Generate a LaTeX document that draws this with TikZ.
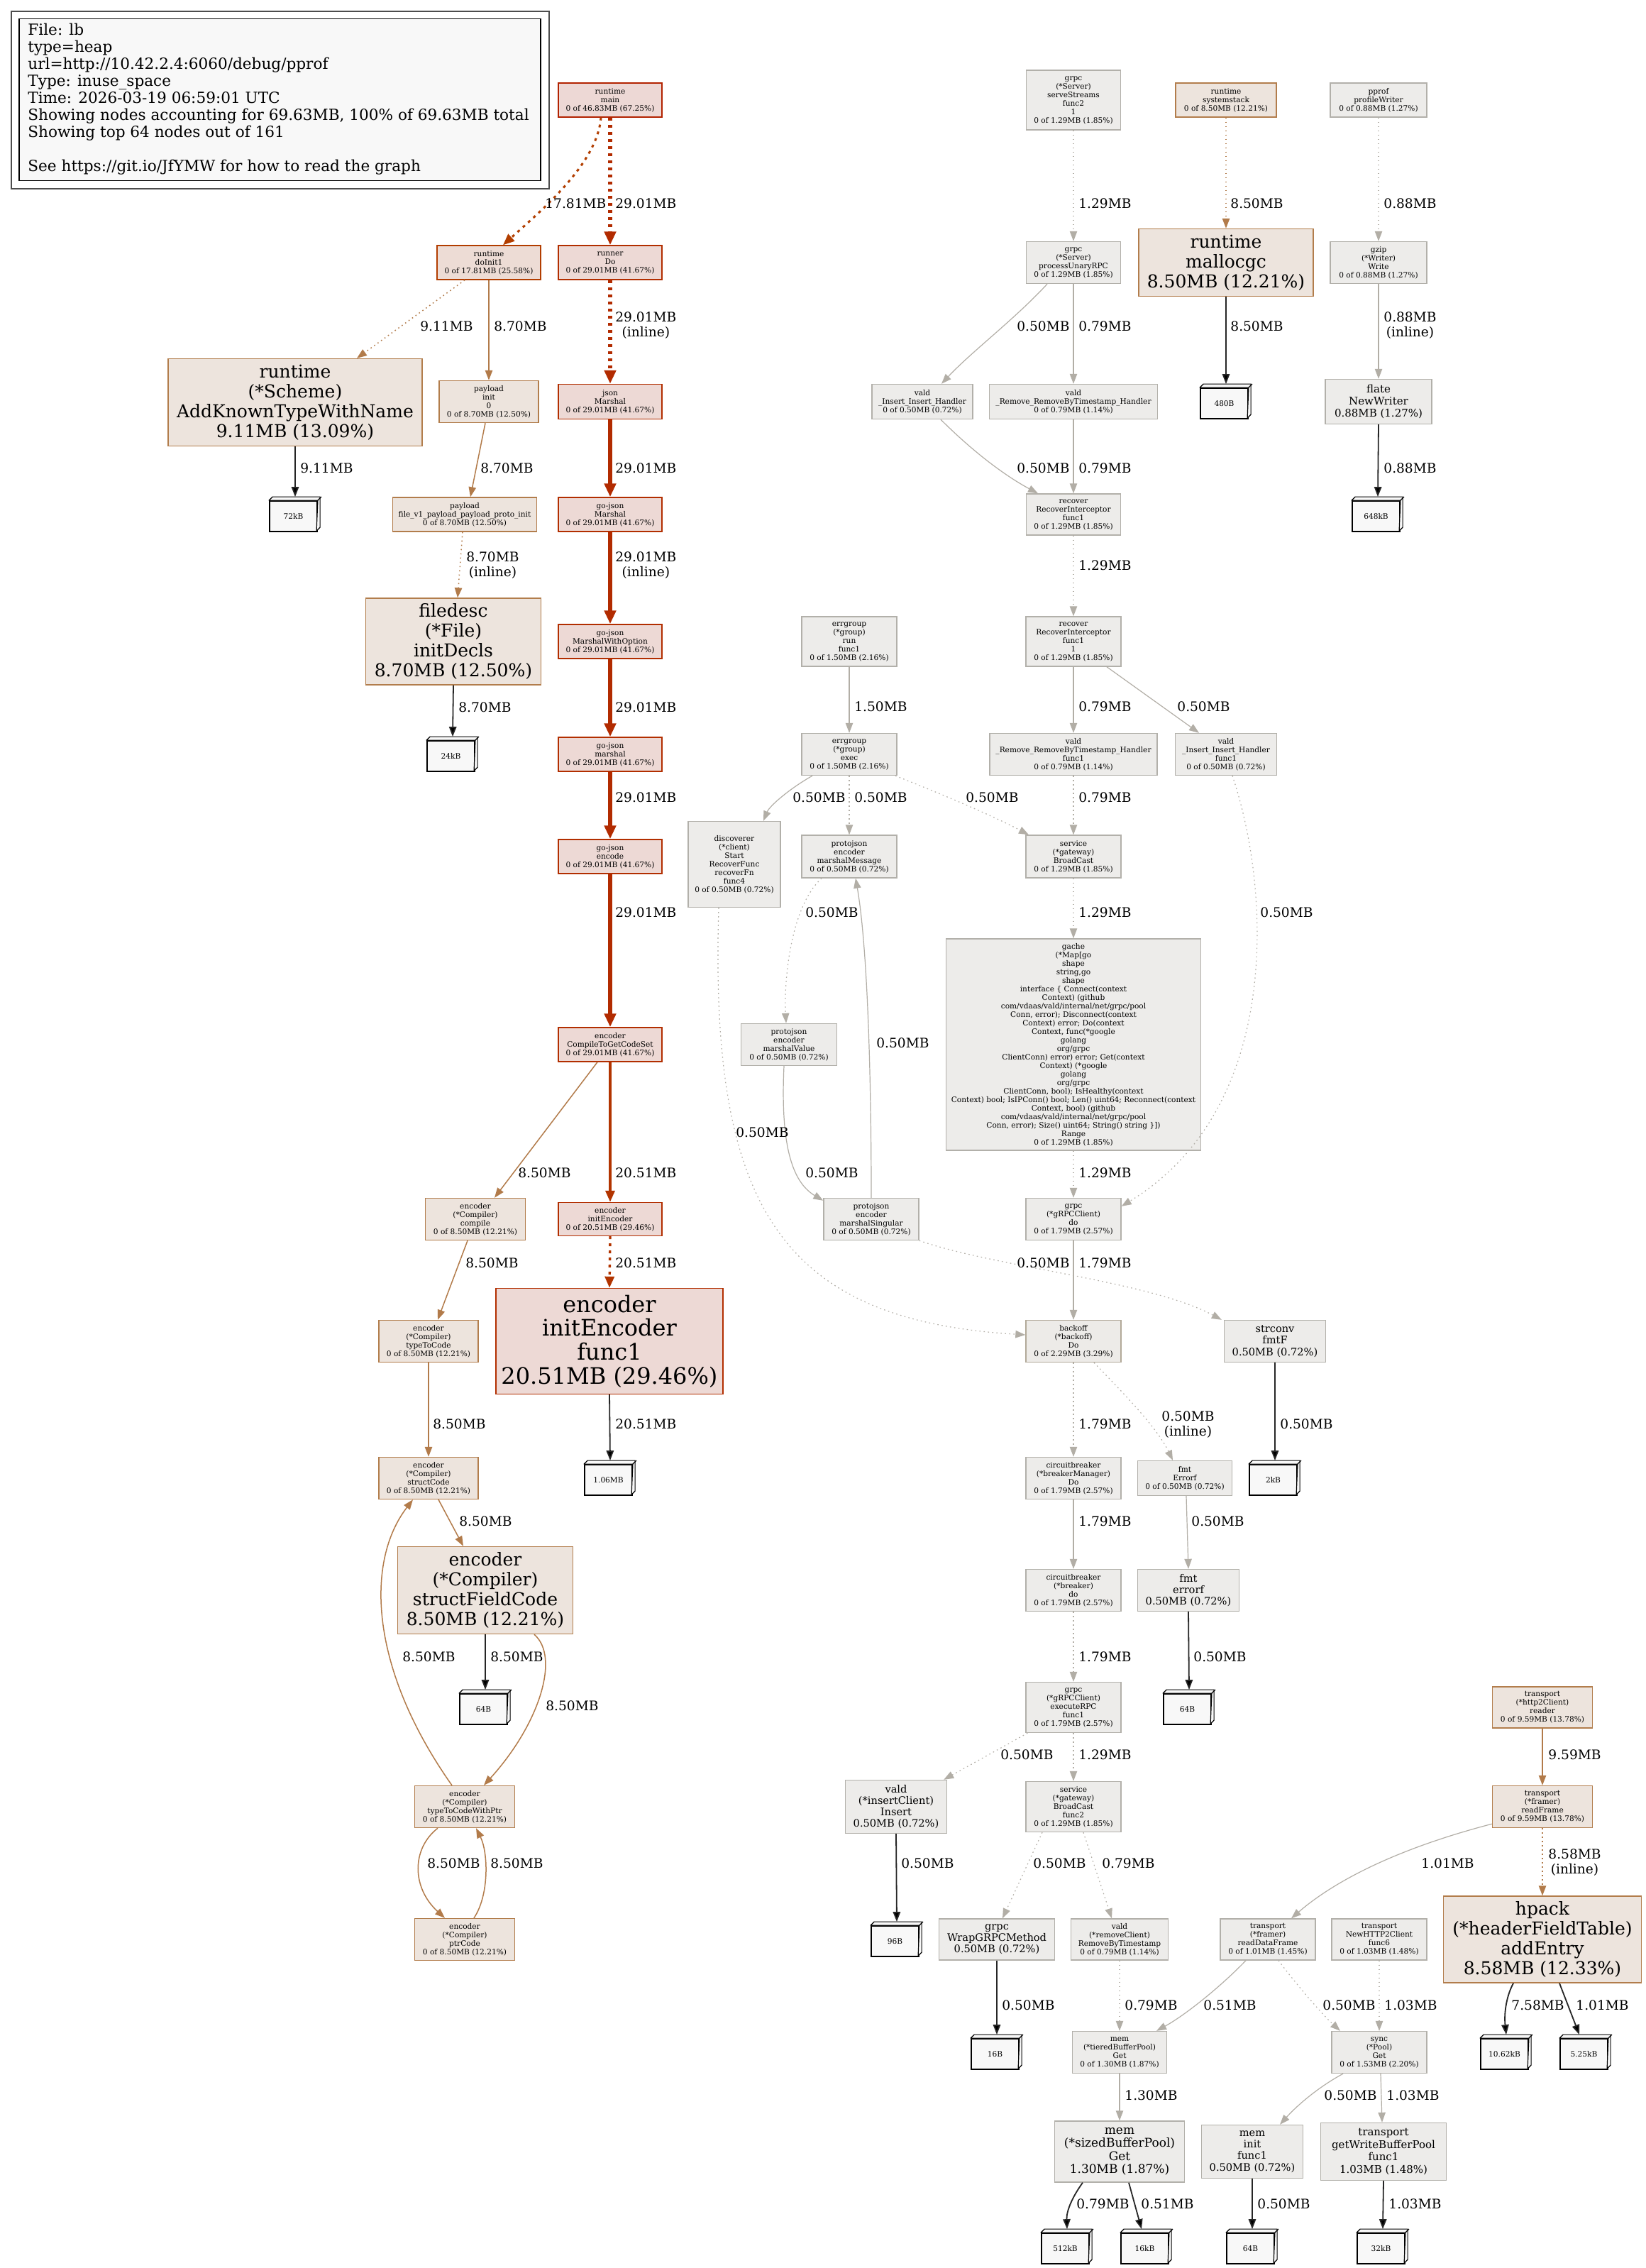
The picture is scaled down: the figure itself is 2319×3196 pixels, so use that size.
\documentclass[tikz,border=0pt]{standalone}
\usepackage{fontspec}
\setmainfont{DejaVu Serif}
\usetikzlibrary{arrows.meta,calc}
\definecolor{cRAd}{HTML}{B22200}\definecolor{cRAf}{HTML}{EDD8D5}
\definecolor{cRBd}{HTML}{B22E00}\definecolor{cRBf}{HTML}{EDD9D5}
\definecolor{cRCd}{HTML}{B23D00}\definecolor{cRCf}{HTML}{EDDCD5}
\definecolor{cBrd}{HTML}{B27D4C}\definecolor{cBrf}{HTML}{EDE4DD}
\definecolor{cGyd}{HTML}{B2B0AA}\definecolor{cGyf}{HTML}{EDECEA}
\definecolor{cGDd}{HTML}{B2A999}\definecolor{cGDf}{HTML}{EDEBE8}
\definecolor{cLeaf}{HTML}{F8F8F8}
\definecolor{cRE}{HTML}{B22B00}\definecolor{cRE2}{HTML}{B23400}\definecolor{cRE3}{HTML}{B23E00}
\definecolor{cBE}{HTML}{B27B4A}\definecolor{cGE}{HTML}{B2AEA6}
\newcommand\fnA{\fontsize{5.3}{6}\selectfont}
\newcommand\fnB{\fontsize{7.3}{8.1}\selectfont}
\newcommand\fnBa{\fontsize{7.5}{8.7}\selectfont}
\newcommand\fnBb{\fontsize{8.5}{9.25}\selectfont}
\newcommand\fnC{\fontsize{12.5}{14}\selectfont}
\newcommand\fnCh{\fontsize{12.5}{14.1}\selectfont}
\newcommand\fnD{\fontsize{16}{16.8}\selectfont}
\newcommand\fnL{\fontsize{9.3}{10.5}\selectfont}
\newcommand\fnLeg{\fontsize{10.8}{12}\selectfont}
\newcommand\leafbox[4]{%
  \node[leaf] (#1) at ({#2-2.5},{#3+2.5}) {#4};
  \filldraw[leafside] (#1.north west) -- ++(5,-5) -- ++(67,0) -- ++(0,43) -- ++(-5,5) -- (#1.north east) -- cycle;
  \draw[leafside] (#1.north east) -- ++(5,-5);
  \coordinate (#1t) at ([xshift=1.25pt,yshift=2.5pt]#1.north);
}
\newcommand\lab[4]{\node[lab] (#1) at (#2,#3) {#4};}
\tikzset{
  nd/.style={rectangle, inner sep=0pt, align=center, line width=0.7pt},
  sz/.style 2 args={minimum width=#1*0.5pt, minimum height=#2*0.5pt},
  redA/.style={nd, draw=cRAd, fill=cRAf},
  redB/.style={nd, draw=cRBd, fill=cRBf},
  redC/.style={nd, draw=cRCd, fill=cRCf},
  brn/.style={nd, draw=cBrd, fill=cBrf},
  gry/.style={nd, draw=cGyd, fill=cGyf},
  gryd/.style={nd, draw=cGDd, fill=cGDf},
  leaf/.style={nd, draw=black, fill=cLeaf, line width=0.9pt, minimum width=33.5pt, minimum height=21.5pt, font=\fnA},
  leafside/.style={draw=black, fill=cLeaf, line width=0.6pt, line join=round},
  lab/.style={anchor=west, inner sep=0pt, font=\fnL, align=center},
  gE/.style={draw=cGE, line width=0.6pt, -{Triangle[length=7pt,width=5.2pt]}},
  bE/.style={draw=cBE, line width=0.75pt, -{Triangle[length=7pt,width=5.2pt]}},
  kE/.style={draw=black!85, line width=0.9pt, -{Triangle[length=7pt,width=5.2pt,fill=black]}},
  rE/.style={draw=cRE, line width=2.6pt, -{Triangle[length=9.5pt,width=8pt]}},
  rE2/.style={draw=cRE2, line width=1.7pt, -{Triangle[length=8pt,width=6.5pt]}},
  rE3/.style={draw=cRE3, line width=1.5pt, -{Triangle[length=8pt,width=6.5pt]}},
  dotG/.style={dash pattern=on 0.8pt off 2.2pt},
  dotR/.style={dash pattern=on 2pt off 3pt}
}
\begin{document}
\begin{tikzpicture}[x=0.5pt,y=-0.5pt]
\useasboundingbox (0,0) rectangle (2319,3196);
\fill[white] (0,0) rectangle (2319,3196);
% legend
\node[draw=black!70, line width=0.7pt, minimum width=379pt, minimum height=125pt, inner sep=0pt] (legbox) at (395,141) {};
\node[draw=black, fill=cLeaf, line width=0.7pt, minimum width=367.5pt, minimum height=113.75pt, inner sep=0pt] (leginner) at (394.5,140.5) {};
\node[anchor=north west, inner sep=0pt, align=left, font=\fnLeg] (legtext) at (39,32.6) {File: lb\\type=heap\\url=http://10.42.2.4:6060/debug/pprof\\Type: inuse\_space\\Time: 2026-03-19 06:59:01 UTC\\Showing nodes accounting for 69.63MB, 100\% of 69.63MB total\\Showing top 64 nodes out of 161\\[12pt]See https://git.io/JfYMW for how to read the graph};
% ---- left column nodes
\node[redA, sz={146}{48}, font=\fnA] (main) at (860,141) {runtime\\main\\0 of 46.83MB (67.25\%)};
\node[redC, sz={146}{48}, font=\fnA] (doInit1) at (689,370) {runtime\\doInit1\\0 of 17.81MB (25.58\%)};
\node[redB, sz={146}{48}, font=\fnA] (runnerDo) at (860,370) {runner\\Do\\0 of 29.01MB (41.67\%)};
\node[brn, sz={358}{123}, font=\fnC] (scheme) at (416,567) {runtime\\(*Scheme)\\AddKnownTypeWithName\\9.11MB (13.09\%)};
\node[brn, sz={140}{59}, font=\fnA] (payinit) at (689,566) {payload\\init\\0\\0 of 8.70MB (12.50\%)};
\node[redB, sz={146}{49}, font=\fnA] (jsonMarshal) at (860,566) {json\\Marshal\\0 of 29.01MB (41.67\%)};
\leafbox{k72}{416}{725}{72kB}
\node[brn, sz={203}{48}, font=\fnA] (payfile) at (655,725) {payload\\file\_v1\_payload\_payload\_proto\_init\\0 of 8.70MB (12.50\%)};
\node[redB, sz={146}{48}, font=\fnA] (gjMarshal) at (860,725) {go-json\\Marshal\\0 of 29.01MB (41.67\%)};
\node[brn, sz={247}{122}, font=\fnC] (filedesc) at (639,904) {filedesc\\(*File)\\initDecls\\8.70MB (12.50\%)};
\node[redB, sz={146}{48}, font=\fnA] (gjMWO) at (860,904) {go-json\\MarshalWithOption\\0 of 29.01MB (41.67\%)};
\leafbox{k24}{638}{1063}{24kB}
\node[redB, sz={146}{48}, font=\fnA] (gjmarshal) at (860,1063) {go-json\\marshal\\0 of 29.01MB (41.67\%)};
\node[redB, sz={146}{48}, font=\fnA] (gjencode) at (860,1207) {go-json\\encode\\0 of 29.01MB (41.67\%)};
\node[redB, sz={146}{48}, font=\fnA] (cgcs) at (860,1472) {encoder\\CompileToGetCodeSet\\0 of 29.01MB (41.67\%)};
\node[brn, sz={141}{59}, font=\fnA] (compile) at (670,1718) {encoder\\(*Compiler)\\compile\\0 of 8.50MB (12.21\%)};
\node[redB, sz={146}{47}, font=\fnA] (initenc) at (860,1718) {encoder\\initEncoder\\0 of 20.51MB (29.46\%)};
\node[redB, sz={320}{149}, font=\fnD] (initencf) at (859,1890) {encoder\\initEncoder\\func1\\20.51MB (29.46\%)};
\node[brn, sz={140}{59}, font=\fnA] (ttc) at (604,1890) {encoder\\(*Compiler)\\typeToCode\\0 of 8.50MB (12.21\%)};
\node[brn, sz={140}{59}, font=\fnA] (sc) at (604,2083) {encoder\\(*Compiler)\\structCode\\0 of 8.50MB (12.21\%)};
\leafbox{mb106}{860}{2083}{1.06MB}
\node[brn, sz={247}{123}, font=\fnC] (sfc) at (684,2241) {encoder\\(*Compiler)\\structFieldCode\\8.50MB (12.21\%)};
\leafbox{b64a}{684}{2406}{64B}
\node[brn, sz={141}{59}, font=\fnA] (ttcwp) at (655,2546) {encoder\\(*Compiler)\\typeToCodeWithPtr\\0 of 8.50MB (12.21\%)};
\node[brn, sz={141}{59}, font=\fnA] (ptr) at (655,2733) {encoder\\(*Compiler)\\ptrCode\\0 of 8.50MB (12.21\%)};
% ---- right part nodes
\node[gry, sz={133}{84}, font=\fnA] (serve) at (1513,141) {grpc\\(*Server)\\serveStreams\\func2\\1\\0 of 1.29MB (1.85\%)};
\node[brn, sz={142}{48}, font=\fnA] (sysstack) at (1728,141) {runtime\\systemstack\\0 of 8.50MB (12.21\%)};
\node[gry, sz={136}{48}, font=\fnA] (pprofw) at (1943,141) {pprof\\profileWriter\\0 of 0.88MB (1.27\%)};
\node[gry, sz={133}{59}, font=\fnA] (unary) at (1513,370) {grpc\\(*Server)\\processUnaryRPC\\0 of 1.29MB (1.85\%)};
\node[brn, sz={246}{95}, font=\fnC] (malloc) at (1728,370) {runtime\\mallocgc\\8.50MB (12.21\%)};
\node[gry, sz={136}{59}, font=\fnA] (gzip) at (1943,370) {gzip\\(*Writer)\\Write\\0 of 0.88MB (1.27\%)};
\node[gry, sz={142}{49}, font=\fnA] (insH) at (1300,566) {vald\\\_Insert\_Insert\_Handler\\0 of 0.50MB (0.72\%)};
\node[gry, sz={237}{49}, font=\fnA] (remH) at (1513,566) {vald\\\_Remove\_RemoveByTimestamp\_Handler\\0 of 0.79MB (1.14\%)};
\leafbox{b480}{1728}{566}{480B}
\node[gry, sz={150}{63}, font=\fnBa] (flate) at (1943,566) {flate\\NewWriter\\0.88MB (1.27\%)};
\node[gry, sz={133}{58}, font=\fnA] (rec1) at (1513,725) {recover\\RecoverInterceptor\\func1\\0 of 1.29MB (1.85\%)};
\leafbox{k648}{1942}{725}{648kB}
\node[gry, sz={134}{70}, font=\fnA] (egrun) at (1197,904) {errgroup\\(*group)\\run\\func1\\0 of 1.50MB (2.16\%)};
\node[gry, sz={134}{70}, font=\fnA] (rec2) at (1513,904) {recover\\RecoverInterceptor\\func1\\1\\0 of 1.29MB (1.85\%)};
\node[gry, sz={134}{59}, font=\fnA] (egexec) at (1197,1063) {errgroup\\(*group)\\exec\\0 of 1.50MB (2.16\%)};
\node[gry, sz={236}{59}, font=\fnA] (remHf) at (1513,1063) {vald\\\_Remove\_RemoveByTimestamp\_Handler\\func1\\0 of 0.79MB (1.14\%)};
\node[gry, sz={143}{59}, font=\fnA] (insHf) at (1728,1063) {vald\\\_Insert\_Insert\_Handler\\func1\\0 of 0.50MB (0.72\%)};
\node[gry, sz={130}{121}, font=\fnA] (disc) at (1035,1218) {discoverer\\(*client)\\Start\\RecoverFunc\\recoverFn\\func4\\0 of 0.50MB (0.72\%)};
\node[gry, sz={134}{60}, font=\fnA] (pjmm) at (1197,1207) {protojson\\encoder\\marshalMessage\\0 of 0.50MB (0.72\%)};
\node[gry, sz={134}{60}, font=\fnA] (bcast) at (1513,1207) {service\\(*gateway)\\BroadCast\\0 of 1.29MB (1.85\%)};
\node[gry, sz={359}{298}, font=\fnA] (gache) at (1513,1472) {gache\\(*Map[go\\shape\\string,go\\shape\\interface \{ Connect(context\\Context) (github\\com/vdaas/vald/internal/net/grpc/pool\\Conn, error); Disconnect(context\\Context) error; Do(context\\Context, func(*google\\golang\\org/grpc\\ClientConn) error) error; Get(context\\Context) (*google\\golang\\org/grpc\\ClientConn, bool); IsHealthy(context\\Context) bool; IsIPConn() bool; Len() uint64; Reconnect(context\\Context, bool) (github\\com/vdaas/vald/internal/net/grpc/pool\\Conn, error); Size() uint64; String() string \}])\\Range\\0 of 1.29MB (1.85\%)};
\node[gry, sz={135}{59}, font=\fnA] (pjmv) at (1112,1472) {protojson\\encoder\\marshalValue\\0 of 0.50MB (0.72\%)};
\node[gry, sz={134}{59}, font=\fnA] (pjms) at (1228,1718) {protojson\\encoder\\marshalSingular\\0 of 0.50MB (0.72\%)};
\node[gry, sz={134}{59}, font=\fnA] (gdo) at (1513,1718) {grpc\\(*gRPCClient)\\do\\0 of 1.79MB (2.57\%)};
\node[gryd, sz={134}{59}, font=\fnA] (backoff) at (1513,1890) {backoff\\(*backoff)\\Do\\0 of 2.29MB (3.29\%)};
\node[gry, sz={143}{59}, font=\fnB] (fmtF) at (1797,1890) {strconv\\fmtF\\0.50MB (0.72\%)};
\node[gry, sz={134}{59}, font=\fnA] (cbm) at (1513,2083) {circuitbreaker\\(*breakerManager)\\Do\\0 of 1.79MB (2.57\%)};
\node[gry, sz={133}{49}, font=\fnA] (Errorf) at (1670,2083) {fmt\\Errorf\\0 of 0.50MB (0.72\%)};
\leafbox{k2}{1797}{2083}{2kB}
\node[gry, sz={134}{59}, font=\fnA] (cbdo) at (1513,2241) {circuitbreaker\\(*breaker)\\do\\0 of 1.79MB (2.57\%)};
\node[gry, sz={143}{59}, font=\fnB] (errorf) at (1675,2241) {fmt\\errorf\\0.50MB (0.72\%)};
\leafbox{b64b}{1676}{2406}{64B}
\node[gry, sz={134}{71}, font=\fnA] (exec) at (1513,2406) {grpc\\(*gRPCClient)\\executeRPC\\func1\\0 of 1.79MB (2.57\%)};
\node[gry, sz={143}{75}, font=\fnB] (insC) at (1263,2546) {vald\\(*insertClient)\\Insert\\0.50MB (0.72\%)};
\node[gry, sz={134}{71}, font=\fnA] (bcast2) at (1513,2546) {service\\(*gateway)\\BroadCast\\func2\\0 of 1.29MB (1.85\%)};
\node[brn, sz={141}{58}, font=\fnA] (h2reader) at (2174,2406) {transport\\(*http2Client)\\reader\\0 of 9.59MB (13.78\%)};
\node[brn, sz={141}{59}, font=\fnA] (readFrame) at (2174,2546) {transport\\(*framer)\\readFrame\\0 of 9.59MB (13.78\%)};
\leafbox{b96}{1264}{2733}{96B}
\node[gry, sz={163}{58}, font=\fnB] (wrap) at (1405,2733) {grpc\\WrapGRPCMethod\\0.50MB (0.72\%)};
\node[gry, sz={137}{58}, font=\fnA] (remC) at (1578,2733) {vald\\(*removeClient)\\RemoveByTimestamp\\0 of 0.79MB (1.14\%)};
\node[gry, sz={134}{58}, font=\fnA] (rdf) at (1787,2733) {transport\\(*framer)\\readDataFrame\\0 of 1.01MB (1.45\%)};
\node[gry, sz={134}{58}, font=\fnA] (nh2c) at (1944,2733) {transport\\NewHTTP2Client\\func6\\0 of 1.03MB (1.48\%)};
\node[brn, sz={279}{122}, font=\fnCh] (hpack) at (2174,2733) {hpack\\(*headerFieldTable)\\addEntry\\8.58MB (12.33\%)};
\leafbox{b16}{1405}{2892}{16B}
\node[gry, sz={133}{59}, font=\fnA] (tiered) at (1578,2892) {mem\\(*tieredBufferPool)\\Get\\0 of 1.30MB (1.87\%)};
\node[gry, sz={134}{59}, font=\fnA] (pool) at (1944,2892) {sync\\(*Pool)\\Get\\0 of 1.53MB (2.20\%)};
\leafbox{k1062}{2123}{2892}{10.62kB}
\leafbox{k525}{2235}{2892}{5.25kB}
\node[gry, sz={183}{86}, font=\fnBb] (sized) at (1578,3032) {mem\\(*sizedBufferPool)\\Get\\1.30MB (1.87\%)};
\node[gry, sz={143}{75}, font=\fnB] (meminit) at (1765,3032) {mem\\init\\func1\\0.50MB (0.72\%)};
\node[gry, sz={177}{81}, font=\fnBa] (gwbp) at (1950,3032) {transport\\getWriteBufferPool\\func1\\1.03MB (1.48\%)};
\leafbox{k512}{1504}{3166}{512kB}
\leafbox{k16}{1616}{3166}{16kB}
\leafbox{b64c}{1765}{3166}{64B}
\leafbox{k32}{1949}{3166}{32kB}
% ---- edges left
\draw[rE3,dotR] ($(main.south)+(-13,0)$) .. controls (842,230) and (765,295) .. ($(doInit1.north)+(20,0)$);
\draw[rE,dotR] (main.south) -- (runnerDo.north);
\draw[bE,dotG] ($(doInit1.south)+(-34,0)$) -- ($(scheme.north)+(87,0)$);
\draw[bE] (doInit1.south) -- (payinit.north);
\draw[rE,dotR] (runnerDo.south) -- (jsonMarshal.north);
\draw[kE] (scheme.south) -- (k72t);
\draw[bE] ($(payinit.south)+(-5,0)$) -- ($(payfile.north)+(8,0)$);
\draw[rE] (jsonMarshal.south) -- (gjMarshal.north);
\draw[bE,dotG] ($(payfile.south)+(-3,0)$) -- ($(filedesc.north)+(6,0)$);
\draw[rE] (gjMarshal.south) -- (gjMWO.north);
\draw[kE] (filedesc.south) -- (k24t);
\draw[rE] (gjMWO.south) -- (gjmarshal.north);
\draw[rE] (gjmarshal.south) -- (gjencode.north);
\draw[rE] (gjencode.south) -- (cgcs.north);
\draw[bE] ($(cgcs.south)+(-18,0)$) -- ($(compile.north)+(27,0)$);
\draw[rE2] (cgcs.south) -- (initenc.north);
\draw[bE] ($(compile.south)+(-11,0)$) -- ($(ttc.north)+(13,0)$);
\draw[rE2,dotR] (initenc.south) -- (initencf.north);
\draw[bE] (ttc.south) -- (sc.north);
\draw[kE] (initencf.south) -- (mb106t);
\draw[bE] ($(sc.south)+(14,0)$) -- ($(sfc.north)+(-31,0)$);
\draw[kE] (sfc.south) -- (b64at);
\draw[bE] ($(ttcwp.north)+(-18,0)$) .. controls (520,2350) and (515,2200) .. ($(sc.south)+(-22,0)$);
\draw[bE] ($(sfc.south)+(69,0)$) .. controls (790,2335) and (760,2430) .. ($(ttcwp.north)+(27,0)$);
\draw[bE] ($(ttcwp.south)+(-38,0)$) .. controls (580,2605) and (580,2660) .. ($(ptr.north)+(-28,0)$);
\draw[bE] ($(ptr.north)+(13,0)$) .. controls (690,2670) and (688,2610) .. ($(ttcwp.south)+(16,0)$);
% ---- edges right
\draw[gE,dotG] (serve.south) -- (unary.north);
\draw[bE,dotG] (sysstack.south) -- (malloc.north);
\draw[gE,dotG] (pprofw.south) -- (gzip.north);
\draw[gE] ($(unary.south)+(-37,0)$) .. controls (1430,450) and (1370,495) .. ($(insH.north)+(27,0)$);
\draw[gE] (unary.south) -- (remH.north);
\draw[kE] (malloc.south) -- (b480t);
\draw[gE] (gzip.south) -- (flate.north);
\draw[gE] ($(insH.south)+(26,0)$) .. controls (1380,645) and (1425,675) .. ($(rec1.north)+(-50,0)$);
\draw[gE] (remH.south) -- (rec1.north);
\draw[kE] (flate.south) -- (k648t);
\draw[gE,dotG] (rec1.south) -- (rec2.north);
\draw[gE] (egrun.south) -- (egexec.north);
\draw[gE] (rec2.south) -- (remHf.north);
\draw[gE] ($(rec2.south)+(47,0)$) -- ($(insHf.north)+(-38,0)$);
\draw[gE] ($(egexec.south)+(-52,0)$) .. controls (1115,1110) and (1085,1135) .. ($(disc.north)+(41,0)$);
\draw[gE,dotG] (egexec.south) -- (pjmm.north);
\draw[gE,dotG] ($(egexec.south)+(65,0)$) .. controls (1330,1120) and (1400,1150) .. ($(bcast.north)+(-63,0)$);
\draw[gE,dotG] (remHf.south) -- (bcast.north);
\draw[gE,dotG] ($(insHf.south)+(9,0)$) .. controls (1790,1250) and (1810,1560) .. ($(gdo.north east)+(0,12)$);
\draw[gE,dotG] ($(pjmm.south)+(-39,0)$) .. controls (1112,1280) and (1105,1390) .. ($(pjmv.north)+(-4,0)$);
\draw[gE,dotG] (bcast.south) -- (gache.north);
\draw[gE] ($(pjmv.south)+(-7,0)$) .. controls (1100,1610) and (1115,1665) .. ($(pjms.north west)+(0,4)$);
\draw[gE] (pjms.north) .. controls (1228,1500) and (1222,1330) .. ($(pjmm.south)+(9,0)$);
\draw[gE,dotG] ($(disc.south)+(-22,0)$) .. controls (1000,1700) and (1100,1860) .. ($(backoff.west)+(0,-9)$);
\draw[gE,dotG] (gache.south) -- (gdo.north);
\draw[gE,dotG] (pjms.south east) .. controls (1400,1785) and (1620,1805) .. ($(fmtF.north west)+(-3,0)$);
\draw[gE] (gdo.south) -- (backoff.north);
\draw[gE,dotG] (backoff.south) -- (cbm.north);
\draw[gE,dotG] ($(backoff.south)+(29,0)$) .. controls (1580,1960) and (1630,2010) .. ($(Errorf.north)+(-17,0)$);
\draw[kE] (fmtF.south) -- (k2t);
\draw[gE] (cbm.south) -- (cbdo.north);
\draw[gE] ($(Errorf.south)+(2,0)$) -- (errorf.north);
\draw[gE,dotG] (cbdo.south) -- (exec.north);
\draw[kE] (errorf.south) -- (b64bt);
\draw[gE,dotG] ($(exec.south west)+(3,0)$) -- ($(insC.north east)+(-5,0)$);
\draw[gE,dotG] (exec.south) -- (bcast2.north);
\draw[bE] (h2reader.south) -- (readFrame.north);
\draw[kE] (insC.south) -- (b96t);
\draw[gE,dotG] ($(bcast2.south)+(-44,0)$) -- ($(wrap.north)+(8,0)$);
\draw[gE,dotG] ($(bcast2.south)+(14,0)$) -- ($(remC.north)+(-11,0)$);
\draw[gE] ($(readFrame.south west)+(0,-6)$) .. controls (1950,2610) and (1870,2660) .. ($(rdf.north)+(33,0)$);
\draw[bE,dotG] (readFrame.south) -- (hpack.north);
\draw[kE] (wrap.south) -- (b16t);
\draw[gE,dotG] (remC.south) -- (tiered.north);
\draw[gE] ($(rdf.south)+(-31,0)$) .. controls (1720,2800) and (1670,2840) .. ($(tiered.north)+(52,0)$);
\draw[gE,dotG] ($(rdf.south)+(15,0)$) .. controls (1830,2800) and (1865,2840) .. ($(pool.north)+(-55,0)$);
\draw[gE,dotG] (nh2c.south) -- (pool.north);
\draw[kE] ($(hpack.south)+(-41,0)$) .. controls (2122,2815) and (2120,2840) .. (k1062t);
\draw[kE] ($(hpack.south)+(24,0)$) -- ($(k525t)+(-9,0)$);
\draw[gE] (tiered.south) -- (sized.north);
\draw[gE] ($(pool.south)+(-51,0)$) .. controls (1860,2940) and (1830,2965) .. ($(meminit.north)+(39,0)$);
\draw[gE] ($(pool.south)+(2,0)$) -- ($(gwbp.north)+(-2,0)$);
\draw[kE] ($(sized.south)+(-52,0)$) .. controls (1512,3095) and (1503,3115) .. (k512t);
\draw[kE] ($(sized.south)+(13,0)$) -- ($(k16t)+(-7,0)$);
\draw[kE] (meminit.south) -- (b64ct);
\draw[kE] (gwbp.south) -- (k32t);
% ---- labels
\lab{l1}{768}{287}{17.81MB}
\lab{l2}{867}{287}{29.01MB}
\lab{l3}{592}{460}{9.11MB}
\lab{l4}{696}{460}{8.70MB}
\lab{l5}{867}{459}{29.01MB\\(inline)}
\lab{l6}{423}{660}{9.11MB}
\lab{l7}{677}{660}{8.70MB}
\lab{l8}{867}{660}{29.01MB}
\lab{l9}{657}{797}{8.70MB\\(inline)}
\lab{l10}{867}{797}{29.01MB\\(inline)}
\lab{l11}{646}{997}{8.70MB}
\lab{l12}{867}{997}{29.01MB}
\lab{l13}{867}{1124}{29.01MB}
\lab{l14}{867}{1286}{29.01MB}
\lab{l15}{730}{1653}{8.50MB}
\lab{l16}{867}{1653}{20.51MB}
\lab{l17}{656}{1780}{8.50MB}
\lab{l18}{867}{1780}{20.51MB}
\lab{l19}{610}{2007}{8.50MB}
\lab{l20}{867}{2007}{20.51MB}
\lab{l21}{647}{2144}{8.50MB}
\lab{l22}{691}{2335}{8.50MB}
\lab{l23}{567}{2335}{8.50MB}
\lab{l24}{769}{2404}{8.50MB}
\lab{l25}{602}{2626}{8.50MB}
\lab{l26}{691}{2626}{8.50MB}
\lab{l27}{1520}{287}{1.29MB}
\lab{l28}{1734}{287}{8.50MB}
\lab{l29}{1950}{287}{0.88MB}
\lab{l30}{1433}{460}{0.50MB}
\lab{l31}{1520}{460}{0.79MB}
\lab{l32}{1734}{460}{8.50MB}
\lab{l33}{1950}{459}{0.88MB\\(inline)}
\lab{l34}{1433}{660}{0.50MB}
\lab{l35}{1520}{660}{0.79MB}
\lab{l36}{1950}{660}{0.88MB}
\lab{l37}{1520}{797}{1.29MB}
\lab{l38}{1204}{996}{1.50MB}
\lab{l39}{1520}{996}{0.79MB}
\lab{l40}{1659}{996}{0.50MB}
\lab{l41}{1117}{1124}{0.50MB}
\lab{l42}{1204}{1124}{0.50MB}
\lab{l43}{1361}{1124}{0.50MB}
\lab{l44}{1520}{1124}{0.79MB}
\lab{l45}{1776}{1286}{0.50MB}
\lab{l46}{1135}{1286}{0.50MB}
\lab{l47}{1520}{1286}{1.29MB}
\lab{l48}{1135}{1653}{0.50MB}
\lab{l49}{1235}{1470}{0.50MB}
\lab{l50}{1037}{1596}{0.50MB}
\lab{l51}{1520}{1653}{1.29MB}
\lab{l52}{1433}{1780}{0.50MB}
\lab{l53}{1520}{1780}{1.79MB}
\lab{l54}{1520}{2007}{1.79MB}
\lab{l55}{1637}{2008}{0.50MB\\(inline)}
\lab{l56}{1804}{2007}{0.50MB}
\lab{l57}{1520}{2144}{1.79MB}
\lab{l58}{1679}{2144}{0.50MB}
\lab{l59}{1520}{2335}{1.79MB}
\lab{l60}{1682}{2335}{0.50MB}
\lab{l61}{1410}{2473}{0.50MB}
\lab{l62}{1520}{2473}{1.29MB}
\lab{l63}{2182}{2473}{9.59MB}
\lab{l64}{1270}{2626}{0.50MB}
\lab{l65}{1456}{2626}{0.50MB}
\lab{l66}{1553}{2626}{0.79MB}
\lab{l67}{2003}{2626}{1.01MB}
\lab{l68}{2182}{2625}{8.58MB\\(inline)}
\lab{l69}{1412}{2826}{0.50MB}
\lab{l70}{1585}{2826}{0.79MB}
\lab{l71}{1696}{2826}{0.51MB}
\lab{l72}{1864}{2826}{0.50MB}
\lab{l73}{1951}{2826}{1.03MB}
\lab{l74}{2130}{2826}{7.58MB}
\lab{l75}{2221}{2826}{1.01MB}
\lab{l76}{1585}{2953}{1.30MB}
\lab{l77}{1866}{2953}{0.50MB}
\lab{l78}{1954}{2953}{1.03MB}
\lab{l79}{1517}{3106}{0.79MB}
\lab{l80}{1608}{3106}{0.51MB}
\lab{l81}{1772}{3106}{0.50MB}
\lab{l82}{1957}{3106}{1.03MB}
\end{tikzpicture}
\end{document}
